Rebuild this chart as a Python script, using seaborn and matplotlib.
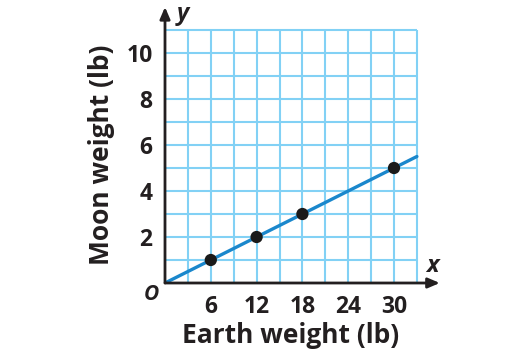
import matplotlib
matplotlib.use("Agg")
import matplotlib.pyplot as plt
import seaborn as sns
import pandas as pd

earth = [6, 12, 18, 30]
moon = [1, 2, 3, 5]
line_earth = [0, 33]
line_moon = [0, 5.5]
x_ticks = [3, 6, 9, 12, 15, 18, 21, 24, 27, 30]
x_labels = ["", "6", "", "12", "", "18", "", "24", "", "30"]
y_ticks = [1, 2, 3, 4, 5, 6, 7, 8, 9, 10]
y_labels = ["", "2", "", "4", "", "6", "", "8", "", "10"]

sns.set_style("white")
plt.rcParams['font.family'] = ['Open Sans', 'DejaVu Sans']

W, H = 529, 359
fig = plt.figure(figsize=(W / 100, H / 100), dpi=100)
ox, oy = 165, 283
ux, uy = 45.8 / 6, 23.0
AW, AH = 36 * ux, 12 * uy
ax = fig.add_axes([ox / W, (H - oy) / H, AW / W, AH / H])
ax.set_xlim(0, 36)
ax.set_ylim(0, 12)

grid_c = "#82d1f5"
ax.vlines([3 * i for i in range(1, 12)], 0, 11, color=grid_c, lw=1.5, zorder=1)
ax.hlines(list(range(1, 12)), 0, 33, color=grid_c, lw=1.5, zorder=1)

df_line = pd.DataFrame({"x": line_earth, "y": line_moon})
df_pts = pd.DataFrame({"x": earth, "y": moon})
sns.lineplot(data=df_line, x="x", y="y", ax=ax, color="#1a87cc", lw=2.4, zorder=3)
sns.scatterplot(data=df_pts, x="x", y="y", ax=ax, color="#1a1a1a", s=78,
                edgecolor="none", zorder=4)

for s in ax.spines.values():
    s.set_visible(False)

# axes with arrows
ax.annotate("", xy=(36, 0), xytext=(0, 0), xycoords="data",
            arrowprops=dict(arrowstyle="-|>,head_length=0.7,head_width=0.3",
                            color="#231f20", lw=2, shrinkA=0, shrinkB=0),
            annotation_clip=False, zorder=5)
ax.annotate("", xy=(0, 12), xytext=(0, 0), xycoords="data",
            arrowprops=dict(arrowstyle="-|>,head_length=0.7,head_width=0.3",
                            color="#231f20", lw=2, shrinkA=0, shrinkB=0),
            annotation_clip=False, zorder=5)

ax.set_xticks(x_ticks)
ax.set_xticklabels(x_labels)
ax.set_yticks(y_ticks)
ax.set_yticklabels(y_labels)
ax.tick_params(axis="both", direction="inout", length=12, width=1.6,
               color="#231f20", labelsize=16.5, pad=3)
ax.tick_params(axis="x", pad=2.5)
for lab in ax.get_xticklabels() + ax.get_yticklabels():
    lab.set_fontweight("bold")
    lab.set_color("#231f20")

ax.set_xlabel("Earth weight (lb)", fontsize=19, fontweight="bold", color="#231f20")
ax.set_ylabel("Moon weight (lb)", fontsize=19, fontweight="bold", color="#231f20")
ax.xaxis.set_label_coords((290.5 - ox) / AW, (oy - 322) / AH)
ax.yaxis.set_label_coords((115 - ox) / AW, (oy - 155) / AH)

fig.text(183 / W, 1 - 14 / H, "y", fontsize=17, fontweight="bold", style="italic",
         ha="center", va="center", color="#231f20")
fig.text(432 / W, 1 - 266 / H, "x", fontsize=17, fontweight="bold", style="italic",
         ha="center", va="center", color="#231f20")
fig.text(151 / W, 1 - 294 / H, "O", fontsize=15, fontweight="bold", style="italic",
         ha="center", va="center", color="#231f20")

fig.savefig("out.png", dpi=100)
